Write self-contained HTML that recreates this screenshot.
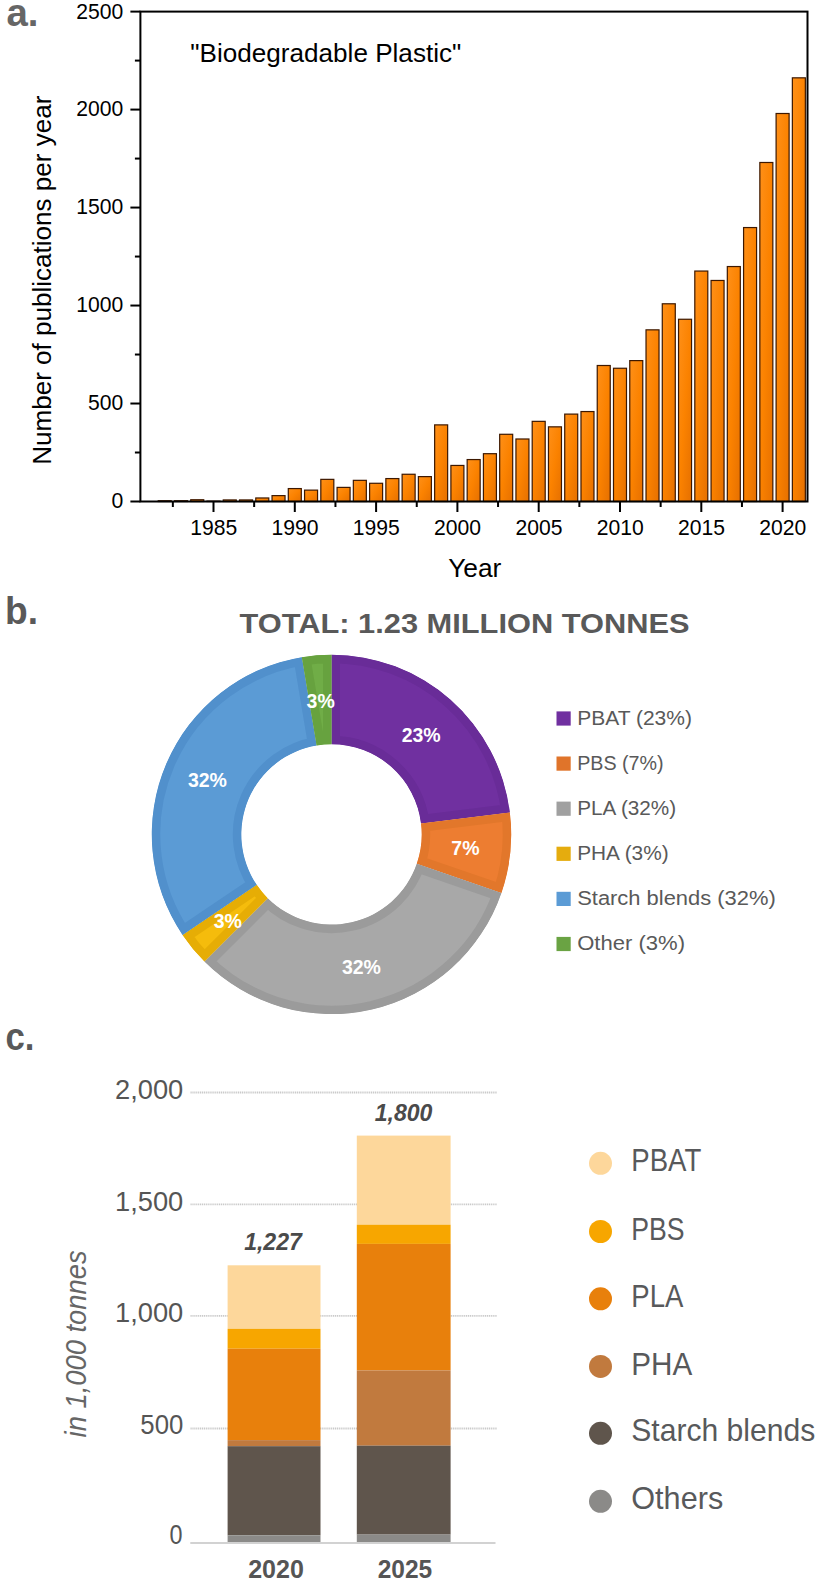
<!DOCTYPE html>
<html lang="en"><head><meta charset="utf-8"><title>Biodegradable plastics figure</title>
<style>html,body{margin:0;padding:0;background:#fff}svg{display:block}text{font-family:"Liberation Sans",Arial,sans-serif}</style></head><body>
<svg width="825" height="1588" viewBox="0 0 825 1588">
<defs><linearGradient id="og" x1="0" y1="0" x2="1" y2="1"><stop offset="0" stop-color="#ff9018"/><stop offset="0.5" stop-color="#fb8200"/><stop offset="1" stop-color="#e67000"/></linearGradient></defs>
<rect width="825" height="1588" fill="#fff"/>
<text x="6.5" y="26" font-size="38" fill="#666" font-weight="bold" textLength="32" lengthAdjust="spacingAndGlyphs">a.</text>
<text x="5" y="623.6" font-size="38" fill="#595959" font-weight="bold" textLength="33" lengthAdjust="spacingAndGlyphs">b.</text>
<text x="5.5" y="1050.2" font-size="38" fill="#595959" font-weight="bold" textLength="29" lengthAdjust="spacingAndGlyphs">c.</text>
<g stroke="#3d1800" stroke-width="1.2" fill="url(#og)">
<rect x="158.22" y="500.72" width="13.0" height="0.78"/>
<rect x="174.48" y="500.72" width="13.0" height="0.78"/>
<rect x="190.74" y="499.74" width="13.0" height="1.76"/>
<rect x="207.00" y="501.11" width="13.0" height="0.39"/>
<rect x="223.26" y="499.93" width="13.0" height="1.57"/>
<rect x="239.52" y="499.93" width="13.0" height="1.57"/>
<rect x="255.78" y="497.97" width="13.0" height="3.53"/>
<rect x="272.04" y="495.62" width="13.0" height="5.88"/>
<rect x="288.30" y="488.57" width="13.0" height="12.93"/>
<rect x="304.56" y="490.13" width="13.0" height="11.37"/>
<rect x="320.82" y="479.36" width="13.0" height="22.14"/>
<rect x="337.08" y="487.39" width="13.0" height="14.11"/>
<rect x="353.34" y="480.34" width="13.0" height="21.16"/>
<rect x="369.60" y="483.28" width="13.0" height="18.22"/>
<rect x="385.86" y="478.57" width="13.0" height="22.93"/>
<rect x="402.12" y="474.26" width="13.0" height="27.24"/>
<rect x="418.38" y="476.61" width="13.0" height="24.89"/>
<rect x="434.64" y="424.88" width="13.0" height="76.62"/>
<rect x="450.90" y="465.44" width="13.0" height="36.06"/>
<rect x="467.16" y="459.56" width="13.0" height="41.94"/>
<rect x="483.42" y="453.69" width="13.0" height="47.81"/>
<rect x="499.68" y="434.29" width="13.0" height="67.21"/>
<rect x="515.94" y="438.99" width="13.0" height="62.51"/>
<rect x="532.20" y="421.35" width="13.0" height="80.15"/>
<rect x="548.46" y="426.84" width="13.0" height="74.66"/>
<rect x="564.72" y="414.10" width="13.0" height="87.40"/>
<rect x="580.98" y="411.55" width="13.0" height="89.95"/>
<rect x="597.24" y="365.50" width="13.0" height="136.00"/>
<rect x="613.50" y="368.25" width="13.0" height="133.25"/>
<rect x="629.76" y="360.60" width="13.0" height="140.90"/>
<rect x="646.02" y="329.84" width="13.0" height="171.66"/>
<rect x="662.28" y="303.78" width="13.0" height="197.72"/>
<rect x="678.54" y="319.26" width="13.0" height="182.24"/>
<rect x="694.80" y="271.05" width="13.0" height="230.45"/>
<rect x="711.06" y="280.46" width="13.0" height="221.04"/>
<rect x="727.32" y="266.54" width="13.0" height="234.96"/>
<rect x="743.58" y="227.55" width="13.0" height="273.95"/>
<rect x="759.84" y="162.49" width="13.0" height="339.01"/>
<rect x="776.10" y="113.50" width="13.0" height="388.00"/>
<rect x="792.36" y="77.83" width="13.0" height="423.67"/>
</g>
<rect x="140.4" y="11.6" width="667.10" height="489.90" fill="none" stroke="#000" stroke-width="2"/>
<g stroke="#000" stroke-width="2">
<line x1="130.4" y1="501.50" x2="140.4" y2="501.50"/>
<line x1="134.9" y1="452.51" x2="140.4" y2="452.51"/>
<line x1="130.4" y1="403.52" x2="140.4" y2="403.52"/>
<line x1="134.9" y1="354.53" x2="140.4" y2="354.53"/>
<line x1="130.4" y1="305.54" x2="140.4" y2="305.54"/>
<line x1="134.9" y1="256.55" x2="140.4" y2="256.55"/>
<line x1="130.4" y1="207.56" x2="140.4" y2="207.56"/>
<line x1="134.9" y1="158.57" x2="140.4" y2="158.57"/>
<line x1="130.4" y1="109.58" x2="140.4" y2="109.58"/>
<line x1="134.9" y1="60.59" x2="140.4" y2="60.59"/>
<line x1="130.4" y1="11.60" x2="140.4" y2="11.60"/>
<line x1="172.85" y1="501.5" x2="172.85" y2="507.0"/>
<line x1="213.50" y1="501.5" x2="213.50" y2="512.0"/>
<line x1="254.15" y1="501.5" x2="254.15" y2="507.0"/>
<line x1="294.80" y1="501.5" x2="294.80" y2="512.0"/>
<line x1="335.45" y1="501.5" x2="335.45" y2="507.0"/>
<line x1="376.10" y1="501.5" x2="376.10" y2="512.0"/>
<line x1="416.75" y1="501.5" x2="416.75" y2="507.0"/>
<line x1="457.40" y1="501.5" x2="457.40" y2="512.0"/>
<line x1="498.05" y1="501.5" x2="498.05" y2="507.0"/>
<line x1="538.70" y1="501.5" x2="538.70" y2="512.0"/>
<line x1="579.35" y1="501.5" x2="579.35" y2="507.0"/>
<line x1="620.00" y1="501.5" x2="620.00" y2="512.0"/>
<line x1="660.65" y1="501.5" x2="660.65" y2="507.0"/>
<line x1="701.30" y1="501.5" x2="701.30" y2="512.0"/>
<line x1="741.95" y1="501.5" x2="741.95" y2="507.0"/>
<line x1="782.60" y1="501.5" x2="782.60" y2="512.0"/>
</g>
<text x="123.2" y="508.4" font-size="22" fill="#000" text-anchor="end" textLength="11.8" lengthAdjust="spacingAndGlyphs">0</text>
<text x="123.2" y="410.42" font-size="22" fill="#000" text-anchor="end" textLength="35.2" lengthAdjust="spacingAndGlyphs">500</text>
<text x="123.2" y="312.44" font-size="22" fill="#000" text-anchor="end" textLength="47" lengthAdjust="spacingAndGlyphs">1000</text>
<text x="123.2" y="214.46" font-size="22" fill="#000" text-anchor="end" textLength="47" lengthAdjust="spacingAndGlyphs">1500</text>
<text x="123.2" y="116.48" font-size="22" fill="#000" text-anchor="end" textLength="47" lengthAdjust="spacingAndGlyphs">2000</text>
<text x="123.2" y="18.5" font-size="22" fill="#000" text-anchor="end" textLength="47" lengthAdjust="spacingAndGlyphs">2500</text>
<text x="213.7" y="535" font-size="22" fill="#000" text-anchor="middle" textLength="47" lengthAdjust="spacingAndGlyphs">1985</text>
<text x="295.0" y="535" font-size="22" fill="#000" text-anchor="middle" textLength="47" lengthAdjust="spacingAndGlyphs">1990</text>
<text x="376.3" y="535" font-size="22" fill="#000" text-anchor="middle" textLength="47" lengthAdjust="spacingAndGlyphs">1995</text>
<text x="457.6" y="535" font-size="22" fill="#000" text-anchor="middle" textLength="47" lengthAdjust="spacingAndGlyphs">2000</text>
<text x="538.9" y="535" font-size="22" fill="#000" text-anchor="middle" textLength="47" lengthAdjust="spacingAndGlyphs">2005</text>
<text x="620.2" y="535" font-size="22" fill="#000" text-anchor="middle" textLength="47" lengthAdjust="spacingAndGlyphs">2010</text>
<text x="701.5" y="535" font-size="22" fill="#000" text-anchor="middle" textLength="47" lengthAdjust="spacingAndGlyphs">2015</text>
<text x="782.8" y="535" font-size="22" fill="#000" text-anchor="middle" textLength="47" lengthAdjust="spacingAndGlyphs">2020</text>
<text x="190.3" y="61.5" font-size="25.5" fill="#000" textLength="271" lengthAdjust="spacingAndGlyphs">&quot;Biodegradable Plastic&quot;</text>
<text x="448.2" y="577" font-size="26" fill="#000" textLength="53.2" lengthAdjust="spacingAndGlyphs">Year</text>
<text transform="translate(51.3,280.2) rotate(-90)" font-size="25.5" text-anchor="middle" textLength="369" lengthAdjust="spacingAndGlyphs">Number of publications per year</text>
<text x="239.5" y="632.9" font-size="27.6" fill="#595959" font-weight="bold" textLength="450" lengthAdjust="spacingAndGlyphs">TOTAL: 1.23 MILLION TONNES</text>
<defs><clipPath id="c0"><path d="M331.50 654.70A179.7 179.7 0 0 1 509.86 812.50L421.03 823.41A90.2 90.2 0 0 0 331.50 744.20Z"/></clipPath><clipPath id="c1"><path d="M509.86 812.50A179.7 179.7 0 0 1 501.41 892.90L416.79 863.77A90.2 90.2 0 0 0 421.03 823.41Z"/></clipPath><clipPath id="c2"><path d="M501.41 892.90A179.7 179.7 0 0 1 204.43 961.47L267.72 898.18A90.2 90.2 0 0 0 416.79 863.77Z"/></clipPath><clipPath id="c3"><path d="M204.43 961.47A179.7 179.7 0 0 1 182.52 934.89L256.72 884.84A90.2 90.2 0 0 0 267.72 898.18Z"/></clipPath><clipPath id="c4"><path d="M182.52 934.89A179.7 179.7 0 0 1 301.84 657.16L316.61 745.44A90.2 90.2 0 0 0 256.72 884.84Z"/></clipPath><clipPath id="c5"><path d="M301.84 657.16A179.7 179.7 0 0 1 331.50 654.70L331.50 744.20A90.2 90.2 0 0 0 316.61 745.44Z"/></clipPath></defs>
<path d="M331.50 654.70A179.7 179.7 0 0 1 509.86 812.50L421.03 823.41A90.2 90.2 0 0 0 331.50 744.20Z" fill="#7030a0" stroke="#692c98" stroke-width="17" stroke-linejoin="miter" clip-path="url(#c0)"/>
<path d="M509.86 812.50A179.7 179.7 0 0 1 501.41 892.90L416.79 863.77A90.2 90.2 0 0 0 421.03 823.41Z" fill="#ed7d31" stroke="#e2772b" stroke-width="17" stroke-linejoin="miter" clip-path="url(#c1)"/>
<path d="M501.41 892.90A179.7 179.7 0 0 1 204.43 961.47L267.72 898.18A90.2 90.2 0 0 0 416.79 863.77Z" fill="#a8a8a8" stroke="#9b9b9b" stroke-width="17" stroke-linejoin="miter" clip-path="url(#c2)"/>
<path d="M204.43 961.47A179.7 179.7 0 0 1 182.52 934.89L256.72 884.84A90.2 90.2 0 0 0 267.72 898.18Z" fill="#f5bc0c" stroke="#e6ad05" stroke-width="17" stroke-linejoin="miter" clip-path="url(#c3)"/>
<path d="M182.52 934.89A179.7 179.7 0 0 1 301.84 657.16L316.61 745.44A90.2 90.2 0 0 0 256.72 884.84Z" fill="#5b9bd5" stroke="#5190cc" stroke-width="17" stroke-linejoin="miter" clip-path="url(#c4)"/>
<path d="M301.84 657.16A179.7 179.7 0 0 1 331.50 654.70L331.50 744.20A90.2 90.2 0 0 0 316.61 745.44Z" fill="#70ad47" stroke="#67a23f" stroke-width="17" stroke-linejoin="miter" clip-path="url(#c5)"/>
<text x="421.2" y="741.7" font-size="19.5" fill="#fff" font-weight="bold" text-anchor="middle">23%</text>
<text x="465.4" y="855.4" font-size="19.5" fill="#fff" font-weight="bold" text-anchor="middle">7%</text>
<text x="361.4" y="973.7" font-size="19.5" fill="#fff" font-weight="bold" text-anchor="middle">32%</text>
<text x="227.8" y="928" font-size="19.5" fill="#fff" font-weight="bold" text-anchor="middle">3%</text>
<text x="207.4" y="787" font-size="19.5" fill="#fff" font-weight="bold" text-anchor="middle">32%</text>
<text x="320.7" y="708" font-size="19.5" fill="#fff" font-weight="bold" text-anchor="middle">3%</text>
<rect x="556.5" y="711.4" width="14.2" height="14.2" fill="#7030a0"/>
<text x="577.2" y="724.7" font-size="20" fill="#595959" textLength="114.7" lengthAdjust="spacingAndGlyphs">PBAT (23%)</text>
<rect x="556.5" y="756.5" width="14.2" height="14.2" fill="#e0742a"/>
<text x="577.2" y="769.8" font-size="20" fill="#595959" textLength="86.4" lengthAdjust="spacingAndGlyphs">PBS (7%)</text>
<rect x="556.5" y="801.6" width="14.2" height="14.2" fill="#a0a0a0"/>
<text x="577.2" y="814.9" font-size="20" fill="#595959" textLength="99" lengthAdjust="spacingAndGlyphs">PLA (32%)</text>
<rect x="556.5" y="846.7" width="14.2" height="14.2" fill="#e5ac0e"/>
<text x="577.2" y="860.0" font-size="20" fill="#595959" textLength="91.4" lengthAdjust="spacingAndGlyphs">PHA (3%)</text>
<rect x="556.5" y="891.8" width="14.2" height="14.2" fill="#5b9bd5"/>
<text x="577.2" y="905.1" font-size="20" fill="#595959" textLength="198.5" lengthAdjust="spacingAndGlyphs">Starch blends (32%)</text>
<rect x="556.5" y="936.9" width="14.2" height="14.2" fill="#6aa343"/>
<text x="577.2" y="950.2" font-size="20" fill="#595959" textLength="107.8" lengthAdjust="spacingAndGlyphs">Other (3%)</text>
<g stroke="#cacaca" stroke-width="1.8" stroke-dasharray="1.2 0.7">
<line x1="190.5" y1="1428.5" x2="497" y2="1428.5"/>
<line x1="190.5" y1="1315.8" x2="497" y2="1315.8"/>
<line x1="190.5" y1="1204.3" x2="497" y2="1204.3"/>
<line x1="190.5" y1="1092.5" x2="497" y2="1092.5"/>
</g>
<rect x="227.6" y="1265.3" width="92.9" height="63.5" fill="#fdd79b"/>
<rect x="227.6" y="1328.8" width="92.9" height="19.9" fill="#f7a600"/>
<rect x="227.6" y="1348.7" width="92.9" height="91.4" fill="#e8800c"/>
<rect x="227.6" y="1440.1" width="92.9" height="6.2" fill="#c17a3e"/>
<rect x="227.6" y="1446.2" width="92.9" height="89.1" fill="#5f554c"/>
<rect x="227.6" y="1535.3" width="92.9" height="6.9" fill="#8b8a88"/>
<rect x="356.8" y="1135.6" width="93.8" height="89.1" fill="#fdd79b"/>
<rect x="356.8" y="1224.7" width="93.8" height="19.2" fill="#f7a600"/>
<rect x="356.8" y="1243.9" width="93.8" height="126.5" fill="#e8800c"/>
<rect x="356.8" y="1370.4" width="93.8" height="75.3" fill="#c17a3e"/>
<rect x="356.8" y="1445.7" width="93.8" height="88.9" fill="#5f554c"/>
<rect x="356.8" y="1534.6" width="93.8" height="7.6" fill="#8b8a88"/>
<line x1="190.3" y1="1543" x2="495.5" y2="1543" stroke="#d2d2d2" stroke-width="1.8"/>
<text x="183.3" y="1098.8" font-size="28" fill="#555" text-anchor="end" textLength="68.3" lengthAdjust="spacingAndGlyphs">2,000</text>
<text x="183.3" y="1210.6" font-size="28" fill="#555" text-anchor="end" textLength="68.3" lengthAdjust="spacingAndGlyphs">1,500</text>
<text x="183.3" y="1322" font-size="28" fill="#555" text-anchor="end" textLength="68.3" lengthAdjust="spacingAndGlyphs">1,000</text>
<text x="183.3" y="1434.2" font-size="28" fill="#555" text-anchor="end" textLength="43" lengthAdjust="spacingAndGlyphs">500</text>
<text x="182.4" y="1543.6" font-size="28" fill="#555" text-anchor="end" textLength="13" lengthAdjust="spacingAndGlyphs">0</text>
<text x="273" y="1249.7" font-size="23.5" fill="#4a4a4a" font-weight="bold" font-style="italic" text-anchor="middle" textLength="57.7" lengthAdjust="spacingAndGlyphs">1,227</text>
<text x="403.6" y="1121.4" font-size="23.5" fill="#4a4a4a" font-weight="bold" font-style="italic" text-anchor="middle" textLength="57.7" lengthAdjust="spacingAndGlyphs">1,800</text>
<text x="276" y="1578.3" font-size="25.2" fill="#555" font-weight="bold" text-anchor="middle" textLength="55.7" lengthAdjust="spacingAndGlyphs">2020</text>
<text x="405" y="1578.3" font-size="25.2" fill="#555" font-weight="bold" text-anchor="middle" textLength="54.5" lengthAdjust="spacingAndGlyphs">2025</text>
<text transform="translate(86.4,1343.9) rotate(-90)" font-size="30" font-style="italic" fill="#666" text-anchor="middle" textLength="187" lengthAdjust="spacingAndGlyphs">in 1,000 tonnes</text>
<circle cx="600.5" cy="1163.3" r="11.5" fill="#fdd79b"/>
<text x="631.3" y="1171.4" font-size="30.5" fill="#58595b" textLength="70" lengthAdjust="spacingAndGlyphs">PBAT</text>
<circle cx="600.5" cy="1231.5" r="11.5" fill="#f7a600"/>
<text x="631.3" y="1239.6" font-size="30.5" fill="#58595b" textLength="53.3" lengthAdjust="spacingAndGlyphs">PBS</text>
<circle cx="600.5" cy="1298.8" r="11.5" fill="#e8800c"/>
<text x="631.3" y="1306.9" font-size="30.5" fill="#58595b" textLength="52" lengthAdjust="spacingAndGlyphs">PLA</text>
<circle cx="600.5" cy="1366.4" r="11.5" fill="#c17a3e"/>
<text x="631.3" y="1374.5" font-size="30.5" fill="#58595b" textLength="61" lengthAdjust="spacingAndGlyphs">PHA</text>
<circle cx="600.5" cy="1433.3" r="11.5" fill="#5f554c"/>
<text x="631.3" y="1441.4" font-size="30.5" fill="#58595b" textLength="184" lengthAdjust="spacingAndGlyphs">Starch blends</text>
<circle cx="600.5" cy="1501.3" r="11.5" fill="#8b8a88"/>
<text x="631.3" y="1509.4" font-size="30.5" fill="#58595b" textLength="91.9" lengthAdjust="spacingAndGlyphs">Others</text>
</svg></body></html>
